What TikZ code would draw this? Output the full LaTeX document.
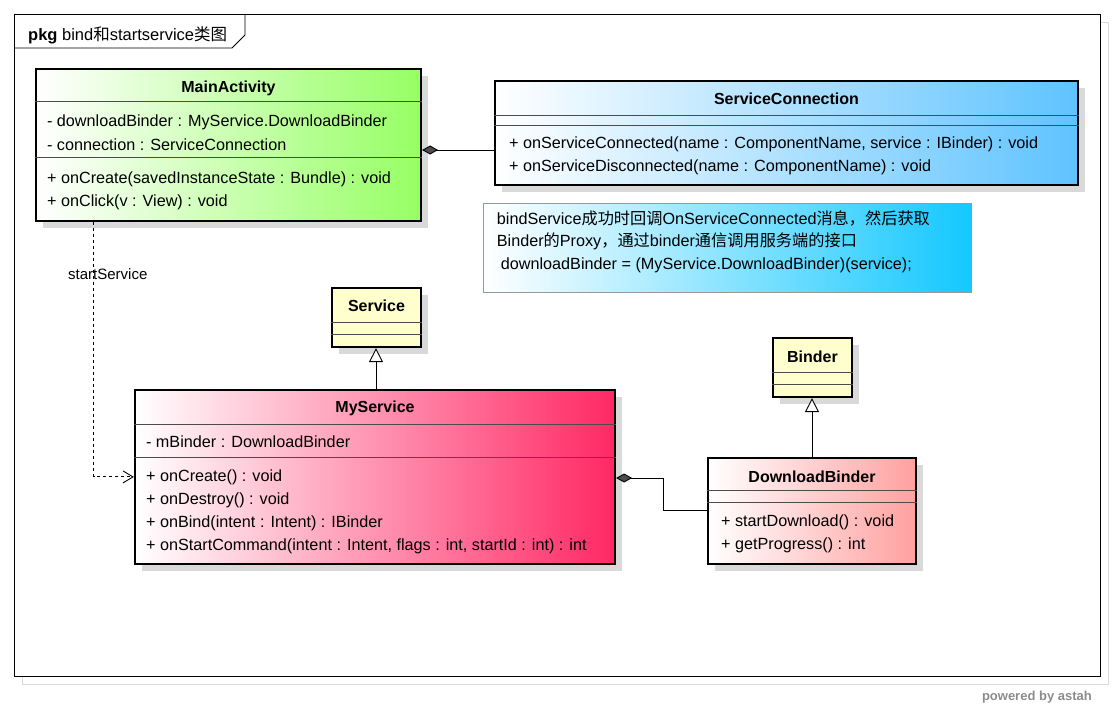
\documentclass[tikz,border=0pt]{standalone}
\usepackage{fontspec}
\setmainfont{Liberation Sans}
\newfontfamily\cjk{Noto Sans CJK SC}
\usetikzlibrary{arrows.meta,shadows}
\definecolor{actgreen}{RGB}{150,255,100}
\definecolor{conblue}{RGB}{95,195,255}
\definecolor{notecyan}{RGB}{20,200,255}
\definecolor{srvpink}{RGB}{255,40,100}
\definecolor{bndpink}{RGB}{255,160,160}
\definecolor{ifyellow}{RGB}{255,255,205}
\tikzset{
  cls/.style={draw=black, line width=2.2pt, inner sep=0pt, drop shadow={shadow xshift=7pt, shadow yshift=-7pt, fill=black!15, opacity=1}},
  sep/.style={draw=black!70, line width=0.8pt},
  txt/.style={anchor=west, inner sep=0pt, font=\fontsize{16.2}{18}\selectfont},
  ttl/.style={inner sep=0pt, font=\fontsize{16}{18}\selectfont\bfseries},
  link/.style={draw=black, line width=0.9pt},
}
\begin{document}
\begin{tikzpicture}[x=1pt,y=-1pt]
\useasboundingbox (0,0) rectangle (1113,709);
% frame
\draw[black!15] (22,22) rectangle (1108,684);
\draw[black, line width=0.8pt, fill=white] (14,14) rectangle (1100,676);
\draw[black, line width=0.8pt] (14,48) -- (232,48) -- (245,35) -- (245,14);
\node[anchor=west, inner sep=0pt, font=\fontsize{16.5}{18}\selectfont] (pkg) at (28,35) {\textbf{pkg} bind{\cjk 和}startservice{\cjk 类图}};
% classes
\node[cls, left color=white, right color=actgreen, minimum width=385, minimum height=152] (main) at (228.5,145) {};
\node[cls, left color=white, right color=conblue, minimum width=583, minimum height=104] (conn) at (786.5,133) {};
\node[draw=black!40, line width=0.6pt, left color=white, right color=notecyan, minimum width=488, minimum height=89] (note) at (727,247.5) {};
\node[cls, fill=ifyellow, minimum width=89, minimum height=59] (srv) at (376.5,317.5) {};
\node[cls, left color=white, right color=srvpink, minimum width=480, minimum height=174] (mysrv) at (375,477) {};
\node[cls, fill=ifyellow, minimum width=79, minimum height=59] (binder) at (812.5,367.5) {};
\node[cls, left color=white, right color=bndpink, minimum width=208, minimum height=106] (dlb) at (812,511) {};
% separators
\draw[sep] ([yshift=-33]main.north west) -- ([yshift=-33]main.north east);
\draw[sep] ([yshift=-89]main.north west) -- ([yshift=-89]main.north east);
\draw[sep] ([yshift=-35]conn.north west) -- ([yshift=-35]conn.north east);
\draw[sep] ([yshift=-45]conn.north west) -- ([yshift=-45]conn.north east);
\draw[sep] ([yshift=-35]srv.north west) -- ([yshift=-35]srv.north east);
\draw[sep] ([yshift=-47]srv.north west) -- ([yshift=-47]srv.north east);
\draw[sep] ([yshift=-35]mysrv.north west) -- ([yshift=-35]mysrv.north east);
\draw[sep] ([yshift=-68]mysrv.north west) -- ([yshift=-68]mysrv.north east);
\draw[sep] ([yshift=-35]binder.north west) -- ([yshift=-35]binder.north east);
\draw[sep] ([yshift=-47]binder.north west) -- ([yshift=-47]binder.north east);
\draw[sep] ([yshift=-33]dlb.north west) -- ([yshift=-33]dlb.north east);
\draw[sep] ([yshift=-45]dlb.north west) -- ([yshift=-45]dlb.north east);
% texts
\node[ttl] (mainT) at ([yshift=-20]main.north) {MainActivity};
\node[txt] (mainA1) at ([xshift=12,yshift=-54]main.north west) {- downloadBinder : MyService.DownloadBinder};
\node[txt] (mainA2) at ([xshift=12,yshift=-77]main.north west) {- connection : ServiceConnection};
\node[txt] (mainO1) at ([xshift=12,yshift=-111]main.north west) {+ onCreate(savedInstanceState : Bundle) : void};
\node[txt] (mainO2) at ([xshift=12,yshift=-134]main.north west) {+ onClick(v : View) : void};
\node[ttl] (connT) at ([yshift=-19]conn.north) {ServiceConnection};
\node[txt] (connO1) at ([xshift=15,yshift=-64]conn.north west) {+ onServiceConnected(name : ComponentName, service : IBinder) : void};
\node[txt] (connO2) at ([xshift=15,yshift=-87]conn.north west) {+ onServiceDisconnected(name : ComponentName) : void};
\node[txt] (noteL1) at ([xshift=14,yshift=-16]note.north west) {bindService{\cjk 成功时回调}OnServiceConnected{\cjk 消息，然后获取}};
\node[txt] (noteL2) at ([xshift=14,yshift=-39]note.north west) {Binder{\cjk 的}Proxy{\cjk ，通过}binder{\cjk 通信调用服务端的接口}};
\node[txt] (noteL3) at ([xshift=18,yshift=-63]note.north west) {downloadBinder = (MyService.DownloadBinder)(service);};
\node[ttl] (srvT) at ([yshift=-19]srv.north) {Service};
\node[ttl] (mysrvT) at ([yshift=-19]mysrv.north) {MyService};
\node[txt] (mysrvA1) at ([xshift=12,yshift=-53]mysrv.north west) {- mBinder : DownloadBinder};
\node[txt] (mysrvO1) at ([xshift=12,yshift=-88]mysrv.north west) {+ onCreate() : void};
\node[txt] (mysrvO2) at ([xshift=12,yshift=-111]mysrv.north west) {+ onDestroy() : void};
\node[txt] (mysrvO3) at ([xshift=12,yshift=-134]mysrv.north west) {+ onBind(intent : Intent) : IBinder};
\node[txt] (mysrvO4) at ([xshift=12,yshift=-157]mysrv.north west) {+ onStartCommand(intent : Intent, flags : int, startId : int) : int};
\node[ttl] (binderT) at ([yshift=-20]binder.north) {Binder};
\node[ttl] (dlbT) at ([yshift=-20]dlb.north) {DownloadBinder};
\node[txt] (dlbO1) at ([xshift=14,yshift=-65]dlb.north west) {+ startDownload() : void};
\node[txt] (dlbO2) at ([xshift=14,yshift=-88]dlb.north west) {+ getProgress() : int};
% connectors
\coordinate (mainD) at ([yshift=-5]main.east);
\draw[link, {Diamond[fill=black!70,length=16pt,width=9pt]}-] (mainD) -- (mainD -| conn.west);
\draw[link, dashed, -{Straight Barb[length=10pt,width=12pt]}] ([xshift=59]main.south west) |- (mysrv.west |- mysrvO1);
\node[txt, font=\fontsize{15}{17}\selectfont] (startL) at (68,274) {startService};
\draw[link, -{Triangle[open,fill=white,length=14pt,width=14pt]}] ([xshift=1]mysrv.north) -- ([xshift=1]mysrv.north |- srv.south);
\draw[link, -{Triangle[open,fill=white,length=14pt,width=14pt]}] (dlb.north) -- (dlb.north |- binder.south);
\coordinate (myD) at ([yshift=-1]mysrv.east);
\draw[link, {Diamond[fill=black!70,length=16pt,width=9pt]}-] (myD) -- ++(47,0) |- ([yshift=1]dlb.west);
\node[anchor=east, inner sep=0pt, text=black!45, font=\fontsize{13}{15}\selectfont\bfseries] (astah) at (1092,697) {powered by astah};
\end{tikzpicture}
\end{document}
